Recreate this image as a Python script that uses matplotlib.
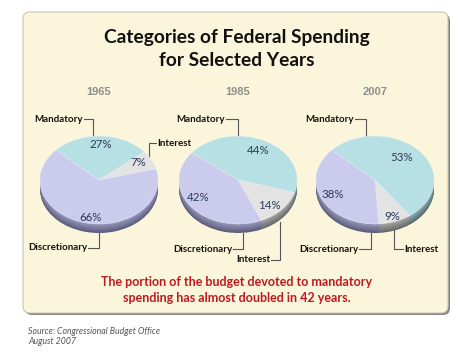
import matplotlib
matplotlib.use("Agg")
import matplotlib.pyplot as plt
from matplotlib.patches import FancyBboxPatch
import numpy as np

# ---------------- data ----------------
years = ["1965", "1985", "2007"]
categories = ["Mandatory", "Interest", "Discretionary"]
mandatory = [27, 44, 53]
interest = [7, 14, 9]
discretionary = [66, 42, 38]

title_lines = ["Categories of Federal Spending", "for Selected Years"]
note_lines = ["The portion of the budget devoted to mandatory",
              "spending has almost doubled in 42 years."]
source_lines = ["Source: Congressional Budget Office", "August 2007"]

# ---------------- style / layout ----------------
W, H = 474, 355
top_colors = ["#B6E0E3", "#E3E3E3", "#CBCBEE"]
side_top = ["#8FB1B5", "#A9A9A9", "#9A9ABF"]
side_bot = ["#55696C", "#686868", "#5C5C7A"]
startangles = [137, 142, 137]
centers_x = [99, 238, 375]
cy, rx, ry, thick = 180, 59, 44, 9
pct_pos = [  # (x, y) in pie units, one per category
    [(0.03, 0.80), (0.66, 0.39), (-0.15, -0.86)],
    [(0.34, 0.66), (0.53, -0.57), (-0.68, -0.39)],
    [(0.46, 0.52), (0.29, -0.84), (-0.71, -0.34)],
]

fig = plt.figure(figsize=(W / 100, H / 100), dpi=100)
fig.patch.set_facecolor("white")
bg = fig.add_axes([0, 0, 1, 1])
bg.set_xlim(0, W)
bg.set_ylim(H, 0)
bg.axis("off")

# panel with shadow
shadow = FancyBboxPatch((25, 14), 425, 301, boxstyle="round,pad=0,rounding_size=7",
                        facecolor="#6E6E6E", edgecolor="none", alpha=0.85, zorder=1)
bg.add_patch(shadow)
panel = FancyBboxPatch((23, 12), 425, 301, boxstyle="round,pad=0,rounding_size=7",
                       facecolor="#FBF5DC", edgecolor="#C9C5B0", linewidth=0.8, zorder=2)
bg.add_patch(panel)

# title
for i, line in enumerate(title_lines):
    bg.text(237, 37 + i * 23, line, ha="center", va="center", fontsize=13.8,
            fontweight="bold", family="Lato", color="#111111", zorder=5)

# years
for x, y in zip(centers_x, years):
    bg.text(x, 92, y, ha="center", va="center", fontsize=8, fontweight="bold",
            family="Liberation Sans", color="#8E8E8E", zorder=5)

# pies
for i, cx in enumerate(centers_x):
    vals = [mandatory[i], interest[i], discretionary[i]]
    ax = fig.add_axes([(cx - rx) / W, 1 - (cy + ry + thick) / H,
                       2 * rx / W, (2 * ry + thick) / H])
    ax.set_zorder(3)
    ax.patch.set_visible(False)
    n = 12
    tu = thick / ry
    for k in range(n, 0, -1):
        f = k / n
        cols = []
        for c0, c1 in zip(side_top, side_bot):
            a = np.array(matplotlib.colors.to_rgb(c0))
            b = np.array(matplotlib.colors.to_rgb(c1))
            cols.append(tuple(a + (b - a) * f))
        ax.pie(vals, colors=cols, startangle=startangles[i], counterclock=False,
               center=(0, -tu * f), radius=1, wedgeprops=dict(edgecolor="none"))
    ax.pie(vals, colors=top_colors, startangle=startangles[i], counterclock=False,
           center=(0, 0), radius=1, wedgeprops=dict(edgecolor="#F4F4F4", linewidth=0.3))
    ax.set_aspect("auto")
    ax.set_xlim(-1, 1)
    ax.set_ylim(-1 - tu, 1)
    ax.axis("off")
    for v, (px, py) in zip(vals, pct_pos[i]):
        ax.text(px, py, f"{v}%", ha="center", va="center", fontsize=8.3,
                family="Lato", color="#2E3A58")

# category labels with leader lines
lc = "#555555"
lw = 0.8
lab = dict(fontsize=7, fontweight="bold", family="Lato", color="#111111", zorder=6, va="center")
# 1965
bg.text(83, 119, categories[0], ha="right", **lab)
bg.plot([84, 93, 93], [119, 119, 139], color=lc, lw=lw, zorder=6)
bg.text(157, 143, categories[1], ha="left", **lab)
bg.plot([156, 149, 149], [143, 143, 157], color=lc, lw=lw, zorder=6)
bg.text(87, 248, categories[2], ha="right", **lab)
bg.plot([88, 99, 99], [248, 248, 233], color=lc, lw=lw, zorder=6)
# 1985
bg.text(225, 119, categories[0], ha="right", **lab)
bg.plot([226, 238, 238], [119, 119, 137], color=lc, lw=lw, zorder=6)
bg.text(232, 249, categories[2], ha="right", **lab)
bg.plot([233, 243, 243], [249, 249, 233], color=lc, lw=lw, zorder=6)
bg.text(270, 260, categories[1], ha="right", **lab)
bg.plot([271, 280, 280], [260, 260, 222], color=lc, lw=lw, zorder=6)
# 2007
bg.text(354, 119, categories[0], ha="right", **lab)
bg.plot([355, 366, 366], [119, 119, 137], color=lc, lw=lw, zorder=6)
bg.text(358, 249, categories[2], ha="right", **lab)
bg.plot([359, 371, 371], [249, 249, 233], color=lc, lw=lw, zorder=6)
bg.text(404, 249, categories[1], ha="left", **lab)
bg.plot([394, 394, 403], [230, 249, 249], color=lc, lw=lw, zorder=6)

# note
for i, line in enumerate(note_lines):
    bg.text(237, 282 + i * 16, line, ha="center", va="center", fontsize=9,
            fontweight="bold", family="Lato", color="#C0191F", zorder=6)

# source
for i, line in enumerate(source_lines):
    bg.text(28, 331 + i * 11, line, ha="left", va="center", fontsize=6.3,
            style="italic", family="Lato", color="#555555", zorder=6)

fig.savefig("out.png", dpi=100, facecolor="white")
